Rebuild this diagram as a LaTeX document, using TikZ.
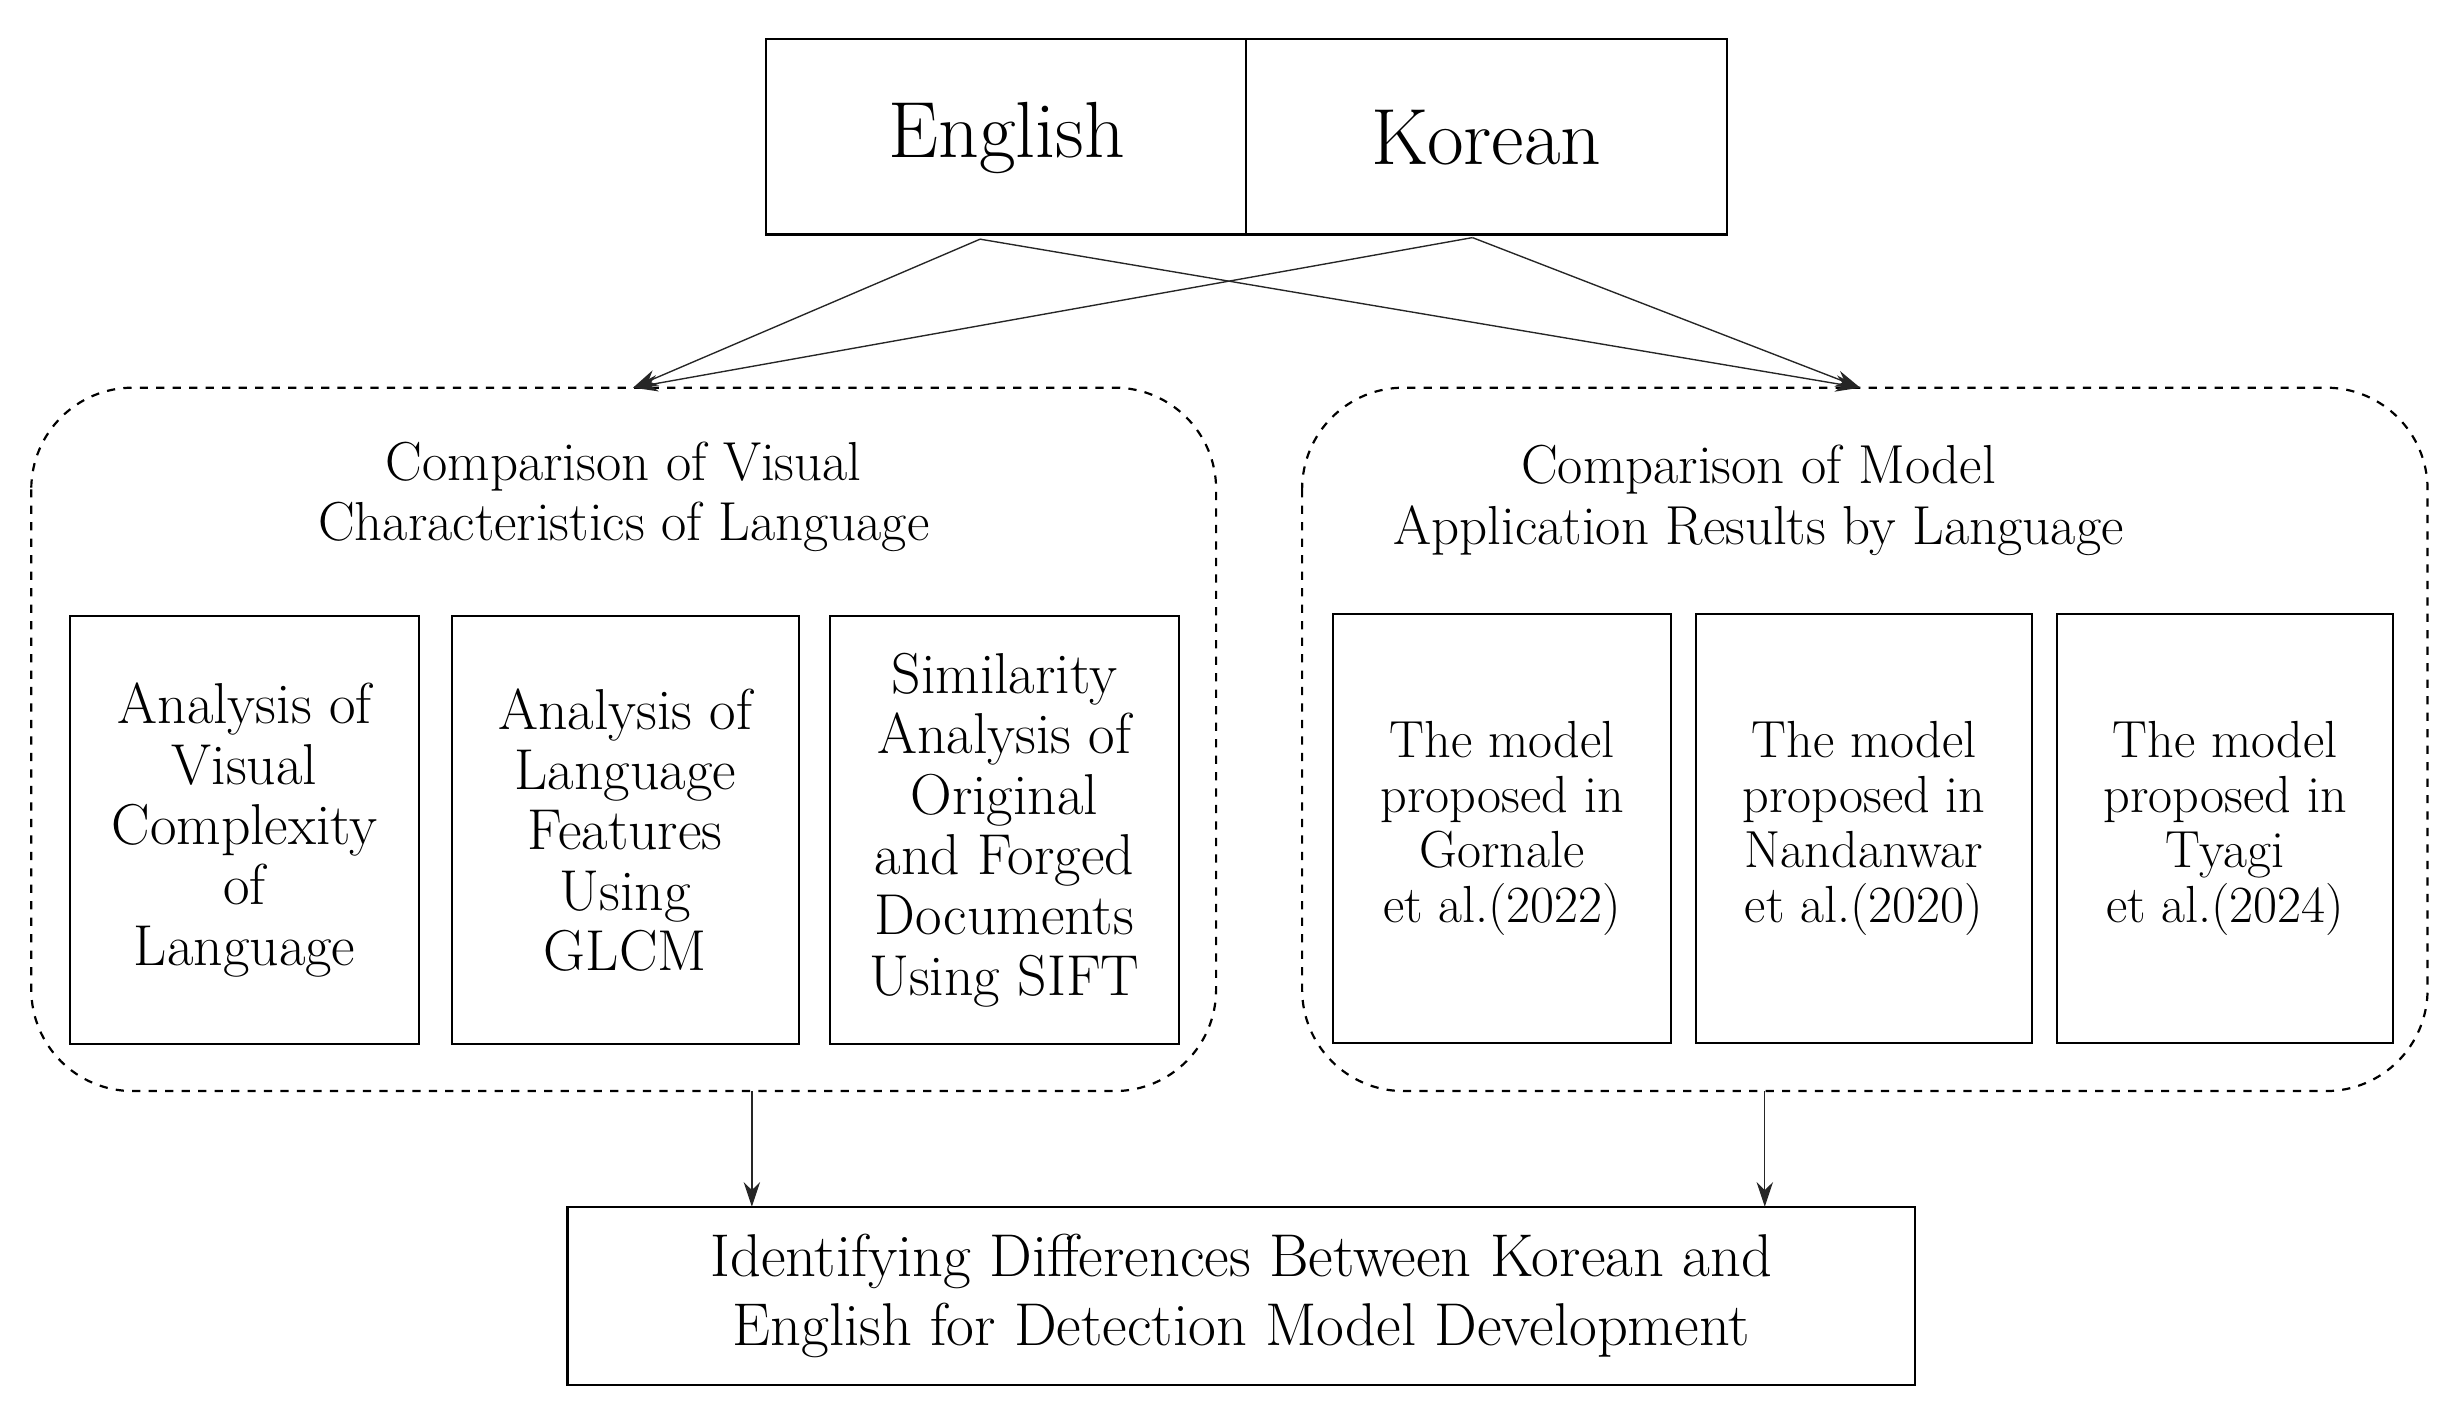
\documentclass[tikz,border=0pt]{standalone}
\usepackage{tikz}
\usetikzlibrary{arrows.meta}
\begin{document}
\begin{tikzpicture}[x=0.02cm, y=-0.02cm,
  box/.style={draw, line width=0.8pt},
  group/.style={draw, dashed, line width=0.8pt, rounded corners=1.3cm},
  link/.style={line width=0.5pt, gray!30!black, -{Stealth[length=9pt,width=6pt]}},
  inner/.style={align=center, font=\fontsize{21}{22}\selectfont},
  small/.style={align=center, font=\fontsize{19}{20}\selectfont}]
\useasboundingbox (0,0) rectangle (1568,903);
% top
\draw[box] (490,25) rectangle (1105,150);
\draw[box] (797,25) -- (797,150);
\node[font=\fontsize{29}{30}\selectfont] (eng) at (644,88) {English};
\node[font=\fontsize{29}{30}\selectfont] (kor) at (951,88) {Korean};
\coordinate (engB) at (627,153);
\coordinate (korB) at (942,152);
% groups
\draw[group] (20,248) rectangle (778,698);
\draw[group] (833,248) rectangle (1553,698);
\coordinate (visT) at (405,248);
\coordinate (modT) at (1190,248);
\coordinate (visB) at (481,698);
\coordinate (modB) at (1129,698);
\node[align=center, font=\fontsize{20}{22}\selectfont] (vis) at (399,318)
  {Comparison of Visual\\Characteristics of Language};
\node[align=center, font=\fontsize{20}{22}\selectfont] (mod) at (1125,320)
  {Comparison of Model\\Application Results by Language};
% inner boxes
\foreach \xa/\xb/\name/\txt in {45/268/va/{Analysis of\\Visual\\Complexity\\of\\Language},
  289/511/vb/{Analysis of\\Language\\Features\\Using\\GLCM},
  531/754/vc/{Similarity\\Analysis of\\Original\\and Forged\\Documents\\Using SIFT}}{
  \draw[box] (\xa,394) rectangle (\xb,668);
  \node[inner] (\name) at ({(\xa+\xb)/2},531) {\txt};
}
\foreach \xa/\xb/\name/\txt in {853/1069/ma/{The model\\proposed in\\Gornale\\et al.(2022)},
  1085/1300/mb/{The model\\proposed in\\Nandanwar\\et al.(2020)},
  1316/1531/mc/{The model\\proposed in\\Tyagi\\et al.(2024)}}{
  \draw[box] (\xa,393) rectangle (\xb,667);
  \node[small] (\name) at ({(\xa+\xb)/2},530) {\txt};
}
% bottom
\draw[box] (363,772) rectangle (1225,886);
\node[align=center, font=\fontsize{22}{25}\selectfont] (res) at (794,829)
  {Identifying Differences Between Korean and\\English for Detection Model Development};
\coordinate (resL) at (481,772);
\coordinate (resR) at (1129,772);
% connectors
\draw[link] (engB) -- (visT);
\draw[link] (engB) -- (modT);
\draw[link] (korB) -- (visT);
\draw[link] (korB) -- (modT);
\draw[link] (visB) -- (resL);
\draw[link] (modB) -- (resR);
\end{tikzpicture}
\end{document}
